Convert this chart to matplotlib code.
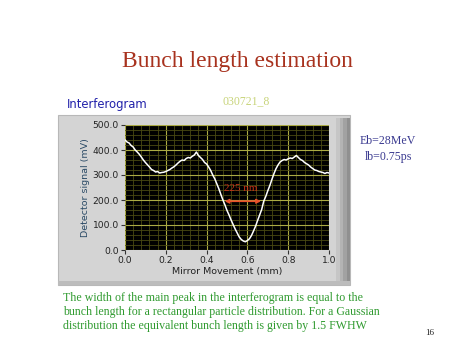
import matplotlib
matplotlib.use('Agg')
import matplotlib.pyplot as plt
import matplotlib.patches as patches
import numpy as np

#### plot settings
plt.rcParams['font.family'] = 'DejaVu Sans'
W, H = 474, 355

# interferogram trace, mirror movement in mm, signal in mV
mirror = np.round(np.arange(0, 101) * 0.01, 2)
signal = [440, 432, 428, 418, 412, 400, 392, 383, 372, 360,
          350, 341, 332, 322, 318, 312, 314, 308, 310, 311,
          314, 318, 322, 328, 333, 340, 348, 355, 360, 358,
          366, 370, 368, 375, 380, 392, 378, 370, 362, 350,
          344, 332, 318, 300, 285, 265, 245, 222, 200, 180,
          158, 140, 120, 102, 84, 68, 52, 42, 36, 33,
          38, 45, 58, 76, 95, 118, 140, 162, 195, 214,
          237, 258, 282, 305, 325, 340, 352, 358, 362, 360,
          365, 368, 366, 372, 378, 370, 362, 358, 350, 345,
          340, 332, 326, 320, 318, 314, 312, 310, 306, 310,
          308]
xticks = [0.0, 0.2, 0.4, 0.6, 0.8, 1.0]
yticks = [0, 100, 200, 300, 400, 500]
fwhm_left, fwhm_right, fwhm_level = 0.475, 0.68, 195
fwhm_label = '225 nm'

title = 'Bunch length estimation'
run_id = '030721_8'
beam_info = ['Eb=28MeV', 'lb=0.75ps']
caption = ['The width of the main peak in the interferogram is equal to the',
           'bunch length for a rectangular particle distribution. For a Gaussian',
           'distribution the equivalent bunch length is given by 1.5 FWHW']
page = '16'


def fx(px):
    return px / W


def fy(py):
    return 1 - py / H


fig = plt.figure(figsize=(W / 100, H / 100), dpi=100)
fig.patch.set_facecolor('white')

# gray LabVIEW panel with a bit of bevel shading
panel = patches.Rectangle((fx(58), fy(285)), fx(350) - fx(58), fy(115) - fy(285),
                          transform=fig.transFigure, facecolor='#d4d4d4',
                          edgecolor='#b8b8b8', lw=0.8, zorder=-2)
fig.patches.append(panel)
for i, c in enumerate(['#c6c6c6', '#b4b4b4', '#a2a2a2', '#909090']):
    x0 = 336 + i * 3.5
    fig.patches.append(patches.Rectangle((fx(x0), fy(285)), fx(3.5), fy(118) - fy(285),
                                         transform=fig.transFigure, facecolor=c,
                                         edgecolor='none', zorder=-1))
fig.patches.append(patches.Rectangle((fx(58), fy(285)), fx(292), fy(281) - fy(285),
                                     transform=fig.transFigure, facecolor='#bcbcbc',
                                     edgecolor='none', zorder=-1))

ax = fig.add_axes([fx(125), fy(250), fx(329) - fx(125), fy(125) - fy(250)])
ax.set_zorder(2)
ax.set_facecolor('black')
ax.plot(mirror, signal, color='white', lw=1.1, zorder=3)

ax.set_xlim(0, 1)
ax.set_ylim(0, 500)
ax.set_xticks(xticks)
ax.set_xticklabels(['%.1f' % v for v in xticks])
ax.set_yticks(yticks)
ax.set_yticklabels(['%.1f' % v for v in yticks])
ax.set_xticks(np.arange(0, 1.001, 0.04), minor=True)
ax.set_yticks(np.arange(0, 501, 20), minor=True)
ax.grid(which='minor', color='#4a4a12', lw=0.6)
ax.grid(which='major', color='#aaaa44', lw=0.8)
ax.set_axisbelow(True)
ax.tick_params(which='major', labelsize=6.6, color='#333333', length=3, width=0.8,
               pad=1.5, labelcolor='#222222')
ax.tick_params(which='minor', length=0)
for s in ax.spines.values():
    s.set_visible(False)
ax.set_xlabel('Mirror Movement (mm)', fontsize=6.8, color='#222222', labelpad=1)
ax.set_ylabel('Detector signal (mV)', fontsize=6.8, color='#2a4a66', labelpad=2)

ax.annotate('', xy=(fwhm_left, fwhm_level), xytext=(fwhm_right, fwhm_level),
            arrowprops=dict(arrowstyle='<->', color='#e8502a', lw=1.2,
                            mutation_scale=6), zorder=4)
ax.text((fwhm_left + fwhm_right) / 2 - 0.01, 246, fwhm_label, color='#c83218',
        fontsize=8, family='Liberation Serif', ha='center', va='center', zorder=4)

fig.text(fx(237), fy(62), title, color='#a8321e', fontsize=17,
         family='Liberation Serif', ha='center', va='center')
fig.text(fx(67), fy(104), 'Interferogram', color='#2222aa', fontsize=8.4,
         ha='left', va='center')
fig.text(fx(246), fy(101), run_id, color='#c8d47a', fontsize=8.5,
         family='Liberation Serif', ha='center', va='center')
fig.text(fx(388), fy(141), beam_info[0], color='#3a3a90', fontsize=8.6,
         family='Liberation Serif', ha='center', va='center')
fig.text(fx(388), fy(157), beam_info[1], color='#3a3a90', fontsize=8.6,
         family='Liberation Serif', ha='center', va='center')
for i, line in enumerate(caption):
    fig.text(fx(63), fy(298 + i * 14), line, color='#2f9a2f', fontsize=8.6,
             family='Liberation Serif', ha='left', va='center')
fig.text(fx(430), fy(333), page, color='#222222', fontsize=6.5,
         family='Liberation Serif', ha='center', va='center')

fig.savefig('out.png', dpi=100)
